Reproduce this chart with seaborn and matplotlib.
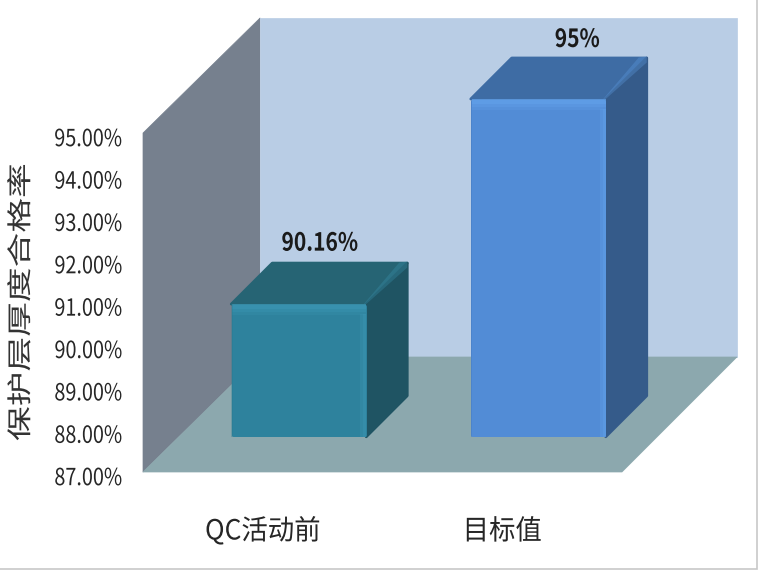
import matplotlib
matplotlib.use('Agg')
import matplotlib.pyplot as plt
import seaborn as sns
from matplotlib.patches import Polygon, Rectangle
from matplotlib.patheffects import AbstractPathEffect
from matplotlib.transforms import Affine2D, IdentityTransform, ScaledTranslation

# 数据
categories = ['QC活动前', '目标值']
rates = [90.16, 95]
rate_labels = ['90.16%', '95%']
y_ticks = [87, 88, 89, 90, 91, 92, 93, 94, 95]
y_label = '保护层厚度合格率'

front_colors = ['#2E829D', '#528CD6']
top_colors = ['#266474', '#3E6CA4']
side_colors = ['#1F5463', '#355B8A']
light_colors = ['#3C97B4', '#62A2EA']
edge_colors = ['#2A7A8F', '#3F74B4']

sns.set_theme(style='white')
plt.rcParams['font.family'] = ['Noto Sans CJK SC', 'DejaVu Sans']


class Squash(AbstractPathEffect):
    # 原图文字被横向压扁，这里按给定中心压缩
    def __init__(self, cx, sx):
        super().__init__()
        self.cx, self.sx = cx, sx

    def draw_path(self, renderer, gc, tpath, affine, rgbFace=None):
        squash = Affine2D().translate(-self.cx, 0).scale(self.sx, 1).translate(self.cx, 0)
        renderer.draw_path(gc, tpath, affine + squash, rgbFace)


fig = plt.figure(figsize=(7.6, 5.7), dpi=100, facecolor='white')
ax = fig.add_axes([143 / 760, (570 - 472) / 570, 479 / 760, 339 / 570])

sns.barplot(x=categories, y=rates, hue=categories, palette=front_colors, legend=False,
            width=0.551, saturation=1, ax=ax, zorder=5)
ax.set_xlim(-0.5, 1.5)
ax.set_ylim(87, 95)
ax.patch.set_visible(False)
sns.despine(ax=ax, left=True, bottom=True)


def add_poly(pts, color, z, alpha=None, lw=0.5):
    ax.add_patch(Polygon(pts, closed=True, facecolor=color, edgecolor=color if alpha is None else 'none',
                         linewidth=lw, alpha=alpha, joinstyle='round',
                         transform=IdentityTransform(), clip_on=False, zorder=z))


# 三维背景：左墙、后墙、地面
x0, y0 = ax.transData.transform((-0.5, 87))
x1, y1 = ax.transData.transform((1.5, 95))
wall_l, wall_r, wall_dy = 117, 115, 115
add_poly([(x0, y0), (x0 + wall_l, y0 + wall_dy), (x0 + wall_l, y1 + wall_dy), (x0, y1)], '#76808E', 1)
add_poly([(x0 + wall_l, y0 + wall_dy), (x1 + wall_r, y0 + wall_dy),
          (x1 + wall_r, y1 + wall_dy), (x0 + wall_l, y1 + wall_dy)], '#B9CDE5', 1)
add_poly([(x0, y0), (x1, y0), (x1 + wall_r, y0 + wall_dy), (x0 + wall_l, y0 + wall_dy)], '#8CA8AE', 2)

# 柱子：把正面往里移，再补顶面、侧面和高光
shift_x, shift_y, depth = 36, 32.5, 41
for i, (p, value) in enumerate(zip(ax.patches[:len(rates)], rates)):
    p.set_y(87.1)
    p.set_height(value - 87.1)
    p.set_transform(ax.transData + Affine2D().translate(shift_x, shift_y))
    p.set_clip_on(False)
    p.set_linewidth(2.16)
    p.set_edgecolor(front_colors[i])
    p.set_joinstyle('round')

    (l, b), (r, t) = ax.transData.transform([(p.get_x(), 87.1), (p.get_x() + p.get_width(), value)])
    l, r = l + shift_x, r + shift_x
    b, t = b + shift_y, t + shift_y
    e = 1.5
    add_poly([(l - e, t + e), (r + e, t + e), (r + e + depth, t + e + depth), (l - e + depth, t + e + depth)],
             top_colors[i], 4, lw=2)
    add_poly([(r + e, b - e), (r + e + depth, b - e + depth), (r + e + depth, t + e + depth), (r + e, t + e)],
             side_colors[i], 4, lw=2)
    # 顶面右边的斜棱
    add_poly([(r - 1, t + e), (r + e, t + e), (r + e + depth, t + depth - 3), (r + e + depth, t + depth + 3),
              (r + e + depth - 8, t + depth + 2)], light_colors[i], 4.5, alpha=0.3)
    # 正面上边、右边的渐变高光
    for k, a in zip([9, 6, 3], [0.25, 0.35, 0.5]):
        add_poly([(l - e + 1, t - k), (r + e, t - k), (r + e, t + e), (l - e + 1, t + e)], light_colors[i], 6, alpha=a)
    for k, a in zip([6, 3], [0.3, 0.4]):
        add_poly([(r + e - k, b - e), (r + e, b - e), (r + e, t - 8), (r + e - k, t - 8)], light_colors[i], 6, alpha=a)
    add_poly([(l - e, b - e), (l, b - e), (l, t + e), (l - e, t + e)], edge_colors[i], 6, alpha=0.3)

# 数值标签
label_offsets = [(41, 68), (54, 67)]
label_centers = [320, 577]
for i, value in enumerate(rates):
    ax.annotate(rate_labels[i], xy=(i, value), xytext=label_offsets[i], textcoords='offset points',
                ha='center', va='center', fontsize=18, fontweight='bold', color='#1A1A1A',
                annotation_clip=False, zorder=8,
                path_effects=[Squash(label_centers[i], 0.84)])

# 坐标轴文字
ax.set_yticks(y_ticks)
ax.set_yticklabels([f'{t:.2f}%' for t in y_ticks], fontsize=17, color='#262626')
ax.tick_params(axis='y', length=0, pad=15)
for lab in ax.get_yticklabels():
    lab.set_transform(lab.get_transform() + ScaledTranslation(0, -3 / 72, fig.dpi_scale_trans))
    lab.set_path_effects([Squash(121, 0.84)])
ax.set_xticks([0, 1])
ax.set_xticklabels(categories, fontsize=20, color='#262626')
ax.tick_params(axis='x', length=0, pad=32)
for lab, cx in zip(ax.get_xticklabels(), [262, 501]):
    lab.set_path_effects([Squash(cx, 0.95)])

fig.text(22 / 760, 1 - 302 / 570, y_label, rotation=90, ha='center', va='center',
         fontsize=25, color='#333333',
         path_effects=[Squash(20, 0.72)])

# 图片外框
fig.add_artist(Rectangle((-0.01, 1.5 / 570), (757 + 7.6) / 760, 1.1, transform=fig.transFigure,
                         fill=False, edgecolor='#C8C8C8', linewidth=1.2))

fig.savefig('out.png', dpi=100)
